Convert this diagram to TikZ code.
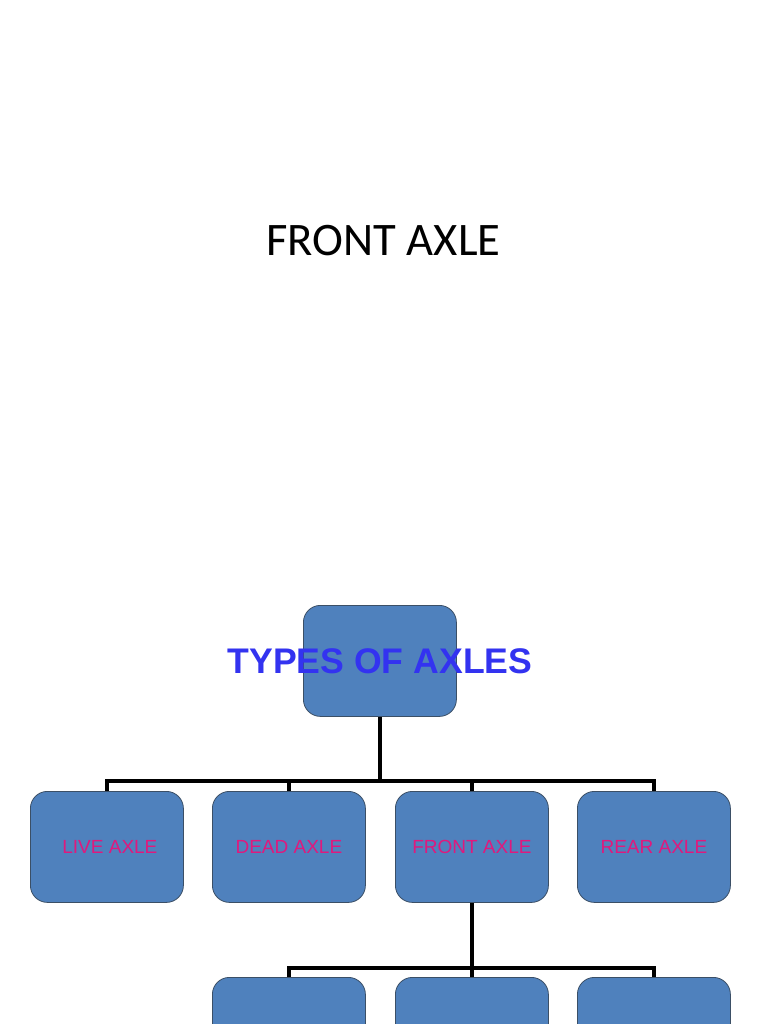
\documentclass[tikz,border=0pt]{standalone}
\usepackage{fontspec}
\setmainfont{Carlito}
\newfontfamily\arial{Liberation Sans}
\definecolor{boxfill}{HTML}{4F81BD}
\definecolor{boxline}{HTML}{3B4F66}
\definecolor{labelpink}{HTML}{E0197D}
\definecolor{headblue}{HTML}{3333F0}
\tikzset{
  axbox/.style={draw=boxline, line width=0.8pt, fill=boxfill, rounded corners=17pt,
    minimum width=153pt, minimum height=111pt, inner sep=0pt, anchor=north west},
  axlabel/.style={font=\arial\fontsize{19}{22}\selectfont, text=labelpink},
  conn/.style={line width=3.2pt, black}
}
\begin{document}
\begin{tikzpicture}[x=1pt,y=-1pt]
\useasboundingbox (0,0) rectangle (768,1024);
\clip (0,0) rectangle (768,1024);
\fill[white] (0,0) rectangle (768,1024);
% title
\node (title) at (383.5,241) {\fontsize{46.6}{52}\selectfont FRONT AXLE};
% boxes
\node[axbox] (top) at (303,605) {};
\node[axbox] (live) at (30,791) {};
\node[axbox] (dead) at (212,791) {};
\node[axbox] (front) at (395,791) {};
\node[axbox] (rear) at (577,791) {};
\node[axbox] (c1) at (212,977) {};
\node[axbox] (c2) at (395,977) {};
\node[axbox] (c3) at (577,977) {};
% labels
\node[axlabel] (lt1) at ([xshift=3pt]live.center) {LIVE AXLE};
\node[axlabel] (lt2) at (dead.center) {DEAD AXLE};
\node[axlabel] (lt3) at (front.center) {FRONT AXLE};
\node[axlabel] (lt4) at (rear.center) {REAR AXLE};
\node[font=\arial\bfseries\fontsize{35.6}{40}\selectfont, text=headblue] (head) at (380,661) {TYPES OF AXLES};
% connectors
\coordinate (j1) at (top.south |- 0,781);
\coordinate (j2) at (front.south |- 0,968);
\draw[conn] (top.south) -- (j1);
\draw[conn] (live.north) |- (j1) -| (rear.north);
\draw[conn] (dead.north) |- (j1);
\draw[conn] (front.north) |- (j1);
\draw[conn] (front.south) -- (j2);
\draw[conn] (c1.north) |- (j2) -| (c3.north);
\draw[conn] (c2.north) -- (j2);
\end{tikzpicture}
\end{document}
